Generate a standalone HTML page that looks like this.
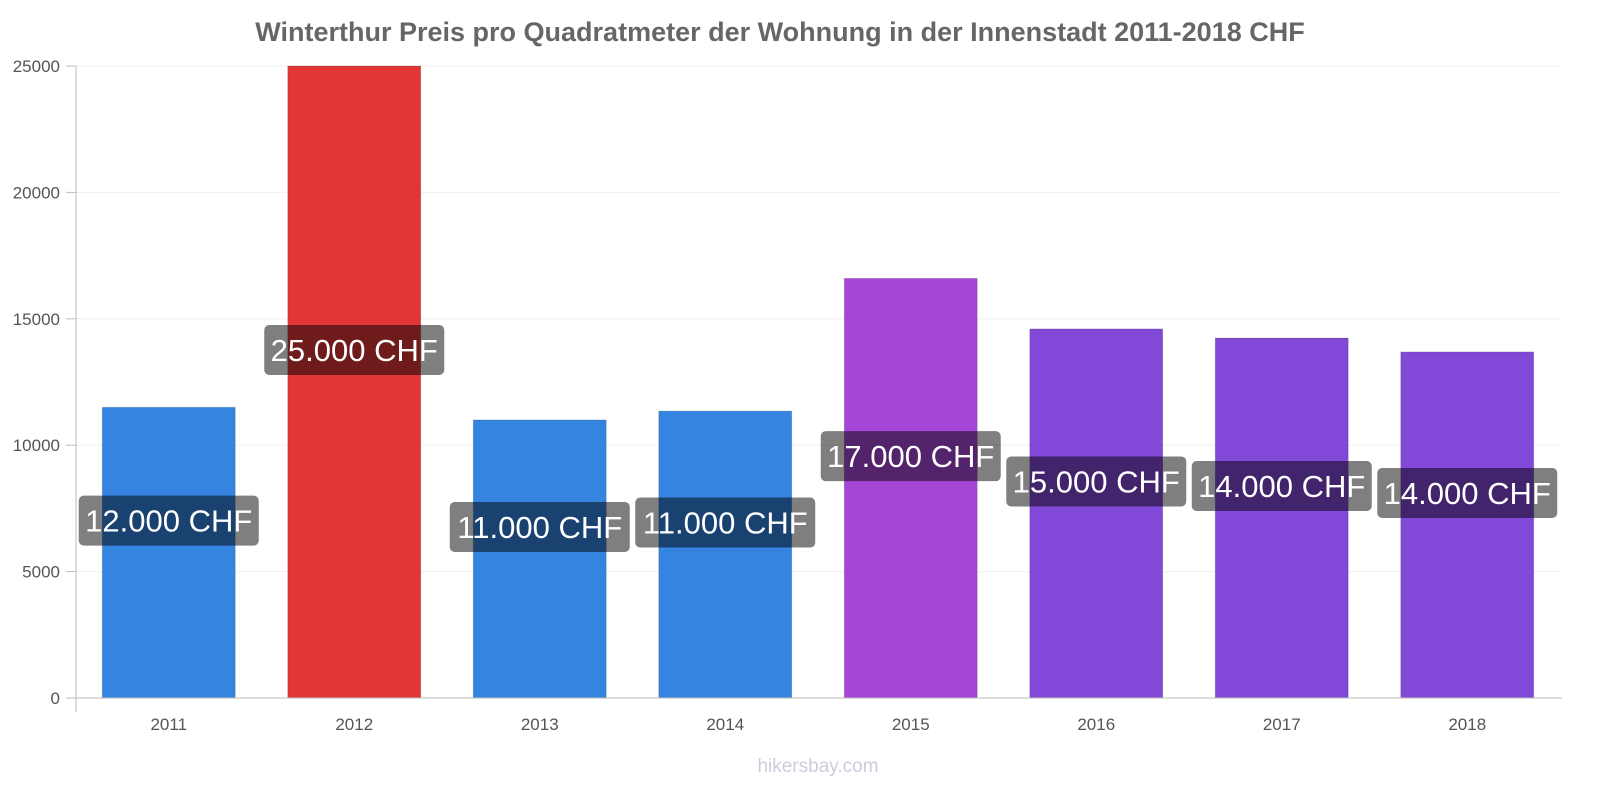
<!DOCTYPE html>
<html><head><meta charset="utf-8"><style>
body{margin:0;background:#fff;width:1600px;height:800px;overflow:hidden;font-family:"Liberation Sans",sans-serif}
</style></head><body>
<svg width="1600" height="800" xmlns="http://www.w3.org/2000/svg">
<text x="780" y="41" text-anchor="middle" font-size="27" font-weight="bold" fill="#666" font-family="Liberation Sans, sans-serif">Winterthur Preis pro Quadratmeter der Wohnung in der Innenstadt 2011-2018 CHF</text>
<g id="grid"></g><g id="bars"></g><g id="labels"></g>
<line x1="76" y1="66" x2="76" y2="712" stroke="#bbb" stroke-width="1"/>
<line x1="66" y1="698" x2="1562" y2="698" stroke="#bbb" stroke-width="1"/>
<text x="818" y="772" text-anchor="middle" font-size="19" fill="#ccd" font-family="Liberation Sans, sans-serif">hikersbay.com</text>
</svg>
<script>
const categories=["2011","2012","2013","2014","2015","2016","2017","2018"];
const values=[11500,25000,11000,11350,16600,14600,14240,13690];
const labelsText=["12.000 CHF","25.000 CHF","11.000 CHF","11.000 CHF","17.000 CHF","15.000 CHF","14.000 CHF","14.000 CHF"];
const colors=["#3584e0","#e03636","#3584e0","#3584e0","#a646d6","#8249d8","#8249d8","#8249d8"];
const yTicks=[0,5000,10000,15000,20000,25000];
const NS="http://www.w3.org/2000/svg";
const y=v=>698-v*632/25000;
const band=(1560-76)/categories.length;
const xc=i=>76+band*(i+0.5);
function mk(t,a,p){const e=document.createElementNS(NS,t);for(const k in a)e.setAttribute(k,a[k]);p.appendChild(e);return e;}
const g=document.getElementById('grid'),b=document.getElementById('bars'),l=document.getElementById('labels');
yTicks.forEach(v=>{
 const ln=mk('line',{x1:76,x2:1560,y1:y(v),y2:y(v),stroke:'#f0f0f0'},g);
 
 
 const tk=mk('line',{x1:66,x2:76,y1:y(v),y2:y(v),stroke:'#bbb'},g);
 
 
 const t=mk('text',{x:60,y:y(v)+6,'text-anchor':'end','font-size':17,fill:'#555'},g);
 t.textContent=v;
 
 
});
categories.forEach((c,i)=>{
 const w=133,top=y(values[i]);
 const r=mk('rect',{x:xc(i)-w/2,y:top,width:w,height:698-top,fill:colors[i],stroke:'rgba(0,0,0,0.12)'},b);
 
 
 const t=mk('text',{x:xc(i),y:730,'text-anchor':'middle','font-size':17,fill:'#555'},b);
 t.textContent=c;
 
 
 const cy=(top+698)/2-32;
 const bw=180,bh=50;
 const bg=mk('rect',{x:xc(i)-bw/2,y:cy-bh/2,width:bw,height:bh,rx:5,fill:'rgba(0,0,0,0.5)'},l);
 
 
 const lt=mk('text',{x:xc(i),y:cy+11,'text-anchor':'middle','font-size':31,fill:'#fff'},l);
 lt.textContent=labelsText[i];
 
 
});
</script>
</body></html>
